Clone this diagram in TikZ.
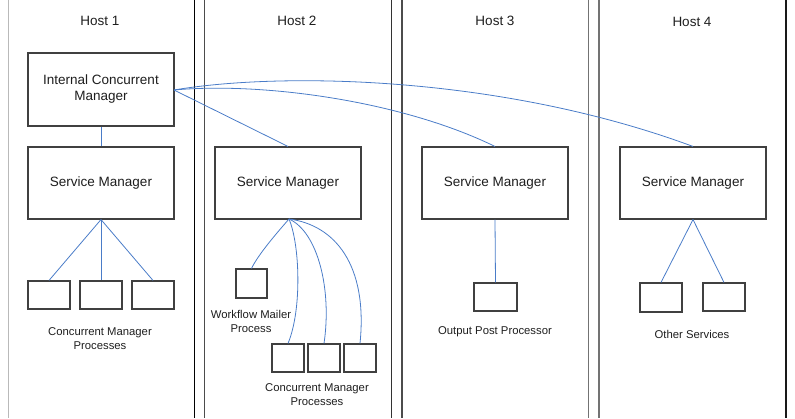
\documentclass[tikz,border=0pt]{standalone}
\usepackage{fontspec}
\setmainfont{Liberation Sans}
\definecolor{linkblue}{RGB}{74,124,200}
\definecolor{boxline}{RGB}{64,64,64}
\definecolor{txt}{RGB}{30,30,30}
\begin{document}
\begin{tikzpicture}[x=1pt,y=-1pt,
  bigbox/.style={draw=boxline,line width=1.1pt,fill=white,minimum width=146pt,minimum height=72pt,inner sep=0pt,align=center,font=\fontsize{13.5}{16}\selectfont,text=txt},
  smallbox/.style={draw=boxline,line width=1.1pt,fill=white,minimum width=42pt,minimum height=28pt,inner sep=0pt},
  lbl/.style={font=\fontsize{11.3}{14}\selectfont,align=center,text=txt,inner sep=0pt},
  hostlbl/.style={font=\fontsize{13.5}{16}\selectfont,text=txt,inner sep=0pt},
  link/.style={draw=linkblue,line width=0.8pt}]
\useasboundingbox (0,0) rectangle (795,418);
% host columns
\draw[gray!55,line width=1.2pt] (8.5,0) -- (8.5,418);
\draw[black,line width=1pt] (194.5,0) -- (194.5,418);
\draw[black!70,line width=1.2pt] (204.5,0) -- (204.5,418);
\draw[black!80,line width=1pt] (391.5,0) -- (391.5,418);
\draw[black!70,line width=1.2pt] (402,0) -- (402,418);
\draw[black!55,line width=1.2pt] (588.5,0) -- (588.5,418);
\draw[black!55,line width=1.2pt] (599,0) -- (599,418);
\draw[black!90,line width=2pt] (786,0) -- (786,418);
% host labels
\node[hostlbl] (h1) at (100,21) {Host 1};
\node[hostlbl] (h2) at (297,21) {Host 2};
\node[hostlbl] (h3) at (495,21) {Host 3};
\node[hostlbl] (h4) at (692,22) {Host 4};
% big boxes
\node[bigbox,minimum height=73pt] (icm) at (101,89.5) {Internal Concurrent\\Manager};
\node[bigbox] (sm1) at (101,183) {Service Manager};
\node[bigbox] (sm2) at (288,183) {Service Manager};
\node[bigbox] (sm3) at (495,183) {Service Manager};
\node[bigbox] (sm4) at (693,183) {Service Manager};
% host 1 processes
\node[smallbox] (p1a) at (49,295) {};
\node[smallbox] (p1b) at (101,295) {};
\node[smallbox] (p1c) at (153,295) {};
\node[lbl] (l1) at (100,339) {Concurrent Manager\\Processes};
% host 2
\node[smallbox,minimum width=31pt,minimum height=29pt] (wf) at (251.5,283.5) {};
\node[lbl] (lwf) at (251,321) {Workflow Mailer\\Process};
\node[smallbox,minimum width=32pt] (p2a) at (288,358) {};
\node[smallbox,minimum width=32pt] (p2b) at (324,358) {};
\node[smallbox,minimum width=32pt] (p2c) at (360,358) {};
\node[lbl] (l2) at (317,395) {Concurrent Manager\\Processes};
% host 3
\node[smallbox,minimum width=43pt] (op) at (495.5,297) {};
\node[lbl] (l3) at (495,332) {Output Post Processor};
% host 4
\node[smallbox,minimum height=29pt] (os1) at (661,297.5) {};
\node[smallbox] (os2) at (724,297) {};
\node[lbl] (l4) at (692,334) {Other Services};
% connectors
\coordinate (icmr) at (174,90);
\draw[link] (icm.south) -- (sm1.north);
\draw[link] (icmr) -- (sm2.north);
\draw[link] (icmr) .. controls (260,82) and (400,100) .. (sm3.north);
\draw[link] (icmr) .. controls (280,72) and (500,75) .. (sm4.north);
\draw[link] (sm1.south) -- (p1a.north);
\draw[link] (sm1.south) -- (p1b.north);
\draw[link] (sm1.south) -- (p1c.north);
\coordinate (s2b) at (289,219);
\draw[link] (s2b) .. controls (275,235) and (258,255) .. (wf.north);
\draw[link] (s2b) .. controls (300,245) and (302,310) .. (p2a.north);
\draw[link] (s2b) .. controls (318,232) and (332,290) .. (p2b.north);
\draw[link] (s2b) .. controls (335,225) and (368,265) .. (p2c.north);
\draw[link] (sm3.south) -- (op.north);
\draw[link] (sm4.south) -- (os1.north);
\draw[link] (sm4.south) -- (os2.north);
\end{tikzpicture}
\end{document}
